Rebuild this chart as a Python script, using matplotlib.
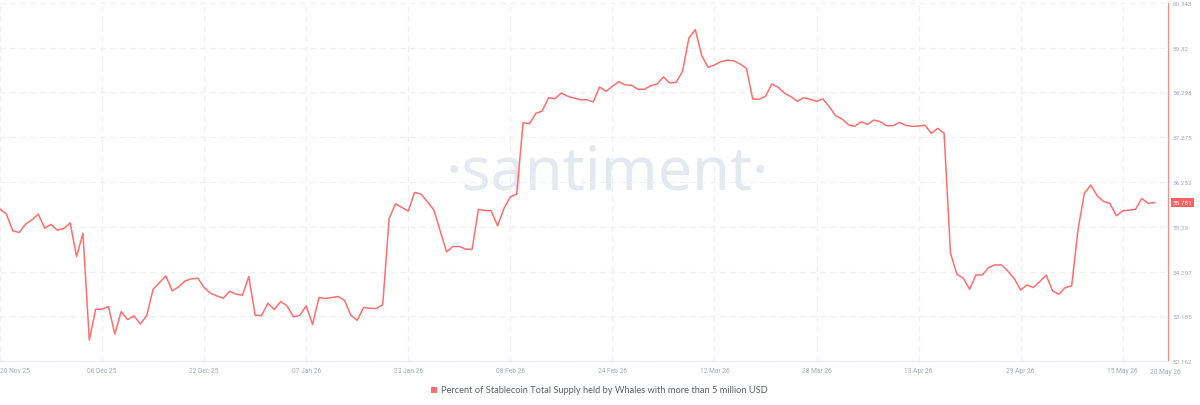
import datetime as dt
import matplotlib
matplotlib.use("Agg")
import matplotlib.pyplot as plt
import matplotlib.dates as mdates
from matplotlib.patches import Rectangle

# ---------------- data ----------------
start_date = dt.date(2025, 11, 20)
values = [
    55.633, 55.518, 55.136, 55.100, 55.289, 55.388, 55.518, 55.198, 55.283, 55.152,
    55.191, 55.319, 54.550, 55.084, 52.642, 53.345, 53.345, 53.407, 52.780, 53.292,
    53.109, 53.192, 53.009, 53.201, 53.802, 53.956, 54.107, 53.764, 53.855, 53.992,
    54.038, 54.054, 53.841, 53.711, 53.649, 53.597, 53.757, 53.688, 53.665, 54.093,
    53.208, 53.201, 53.482, 53.338, 53.521, 53.420, 53.169, 53.208, 53.420, 52.995,
    53.613, 53.590, 53.613, 53.635, 53.551, 53.208, 53.093, 53.384, 53.368, 53.361,
    53.452, 55.420, 55.754, 55.671, 55.587, 56.015, 55.976, 55.800, 55.617, 55.136,
    54.656, 54.779, 54.779, 54.717, 54.711, 55.626, 55.603, 55.594, 55.250, 55.649,
    55.914, 55.976, 57.607, 57.584, 57.822, 57.875, 58.179, 58.156, 58.286, 58.211,
    58.172, 58.133, 58.133, 58.081, 58.424, 58.325, 58.440, 58.545, 58.470, 58.463,
    58.371, 58.371, 58.453, 58.492, 58.653, 58.515, 58.531, 58.783, 59.545, 59.735,
    59.140, 58.874, 58.927, 59.003, 59.035, 59.025, 58.950, 58.852, 58.149, 58.142,
    58.211, 58.492, 58.417, 58.280, 58.202, 58.097, 58.179, 58.142, 58.097, 58.149,
    57.973, 57.767, 57.692, 57.561, 57.525, 57.630, 57.570, 57.669, 57.630, 57.538,
    57.538, 57.616, 57.548, 57.525, 57.532, 57.548, 57.365, 57.479, 57.365, 54.626,
    54.146, 54.054, 53.802, 54.130, 54.130, 54.299, 54.358, 54.358, 54.214, 54.047,
    53.786, 53.901, 53.841, 53.979, 54.123, 53.764, 53.688, 53.841, 53.878, 55.175,
    55.999, 56.182, 55.937, 55.809, 55.763, 55.479, 55.594, 55.610, 55.626, 55.877,
    55.763, 55.781,
]
dates = [start_date + dt.timedelta(days=i) for i in range(len(values))]

y_ticks = [52.162, 53.185, 54.207, 55.23, 56.252, 57.275, 58.298, 59.32, 60.343]
y_tick_labels = ["52.162", "53.185", "54.207", "55.23", "56.252", "57.275", "58.298", "59.32", "60.343"]
x_tick_dates = ["2025-11-20", "2025-12-06", "2025-12-22", "2026-01-07", "2026-01-23",
                "2026-02-08", "2026-02-24", "2026-03-12", "2026-03-28", "2026-04-13",
                "2026-04-29", "2026-05-15"]
x_tick_labels = ["20 Nov 25", "06 Dec 25", "22 Dec 25", "07 Jan 26", "23 Jan 26",
                 "08 Feb 26", "24 Feb 26", "12 Mar 26", "28 Mar 26", "13 Apr 26",
                 "29 Apr 26", "15 May 26"]
last_date_label = "20 May 26"
series_name = "Percent of Stablecoin Total Supply held by Whales with more than 5 million USD"
last_value_label = "55.781"

# ---------------- style ----------------
LINE = "#ff6e6e"
GRID = "#eceef5"
TICK = "#a4a9bb"
TFONT = "Roboto"

fig = plt.figure(figsize=(12, 4.06), dpi=100)
ax = fig.add_axes([0.0, 44 / 406, 1168 / 1200, 358 / 406])

ax.text(0.52, 0.525, "\u00b7santiment\u00b7", transform=ax.transAxes, fontsize=44,
        family="Noto Sans", color="#e5e7f1", ha="center", va="center", zorder=0)

ax.plot(dates, values, color=LINE, lw=1.1, zorder=3)

x0 = mdates.date2num(start_date)
ax.set_xlim(x0, x0 + 183.1)
ax.set_ylim(y_ticks[0], y_ticks[-1])

ax.set_yticks(y_ticks)
ax.set_yticklabels(y_tick_labels, family=TFONT)
ax.yaxis.tick_right()
ax.tick_params(axis="y", length=0, pad=3.5, labelsize=4.6, labelcolor=TICK)

xt = [mdates.date2num(dt.date.fromisoformat(d)) for d in x_tick_dates]
ax.set_xticks(xt)
ax.set_xticklabels(x_tick_labels, family=TFONT)
ax.tick_params(axis="x", length=0, pad=4, labelsize=4.8, labelcolor=TICK)
for lbl in ax.get_xticklabels()[:1]:
    lbl.set_ha("left")
ax.text(0.998, -0.02, last_date_label, transform=ax.transAxes, ha="center", va="top",
        fontsize=4.8, color=TICK, family=TFONT)

ax.grid(True, color=GRID, lw=0.9, ls=(0, (4, 4)), zorder=1)
for s in ["top", "left"]:
    ax.spines[s].set_visible(False)
ax.spines["bottom"].set_color("#e8e9ef")
ax.spines["bottom"].set_linewidth(0.8)
ax.spines["right"].set_color("#ff8a8a")
ax.spines["right"].set_linewidth(0.9)

# last-value badge
ax.annotate(last_value_label, xy=(1.0, values[-1]), xycoords=("axes fraction", "data"),
            xytext=(3.2, 0), textcoords="offset points", ha="left", va="center",
            fontsize=4.6, color="white", family=TFONT,
            bbox=dict(boxstyle="square,pad=0.3", fc="#ff5f5f", ec="none"))

# legend
fig.patches.append(Rectangle((431 / 1200, 1 - 394 / 406), 6 / 1200, 6 / 406,
                             transform=fig.transFigure, fc="#ff6b6b", ec="none"))
fig.text(441 / 1200, 1 - 391 / 406, series_name, ha="left", va="center",
         fontsize=6.7, color="#5a5f6b", family="Lato")

fig.savefig("out.png", dpi=100)
